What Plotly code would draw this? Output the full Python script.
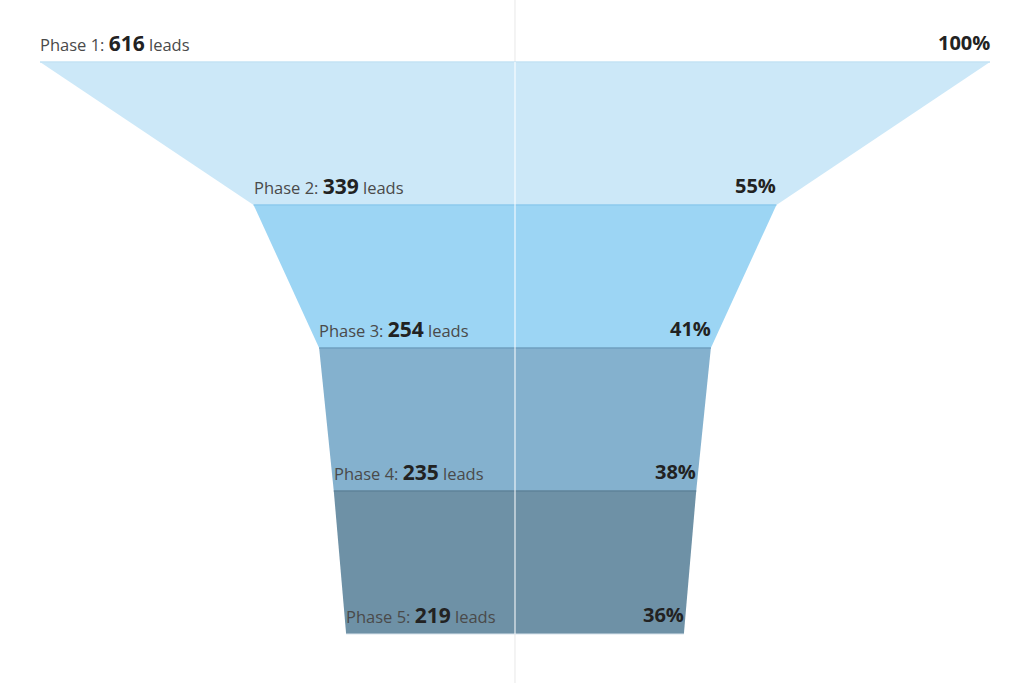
import plotly.graph_objects as go

phases = ["Phase 1", "Phase 2", "Phase 3", "Phase 4", "Phase 5"]
leads = [616, 339, 254, 235, 219]
percent_labels = ["100%", "55%", "41%", "38%", "36%"]
band_colors = ["#cce8f8", "#9cd5f4", "#84b1ce", "#6e91a6"]
edge_colors = ["#c4e3f5", "#8ccaee", "#6f9fbf", "#5f8398"]

# pixel mapping: 950 px for 616 leads, centre at x=515, levels every 143 px from y=62
px_per_lead = 950 / 616
x_range = [-515 / px_per_lead, (1024 - 515) / px_per_lead]
y_range = [(683 - 62) / 143, -62 / 143]

fig = go.Figure()

# background centre line (light grey on white)
fig.add_trace(go.Scatter(x=[0, 0], y=[y_range[1], y_range[0]], mode="lines",
                         line=dict(color="#ececec", width=1.2), hoverinfo="skip", showlegend=False))

for i in range(len(leads) - 1):
    a, b = leads[i] / 2, leads[i + 1] / 2
    fig.add_trace(go.Scatter(
        x=[-a, a, b, -b, -a], y=[i, i, i + 1, i + 1, i],
        mode="lines", fill="toself", fillcolor=band_colors[i],
        line=dict(width=0), hoverinfo="skip", showlegend=False))
    fig.add_trace(go.Scatter(
        x=[-a, a], y=[i, i], mode="lines",
        line=dict(color=edge_colors[i], width=1.5), hoverinfo="skip", showlegend=False))

# bottom edge
b = leads[-1] / 2
fig.add_trace(go.Scatter(x=[-b, b], y=[len(leads) - 1] * 2, mode="lines",
                         line=dict(color="#d8e4ec", width=1.2), hoverinfo="skip", showlegend=False))

# centre line over bands (white)
fig.add_trace(go.Scatter(x=[0, 0], y=[0, len(leads) - 1], mode="lines",
                         line=dict(color="rgba(255,255,255,0.85)", width=1.2),
                         hoverinfo="skip", showlegend=False))

font_family = "Open Sans, Lato, sans-serif"
for i, (p, n, pct) in enumerate(zip(phases, leads, percent_labels)):
    fig.add_annotation(
        x=-n / 2, y=i, xref="x", yref="y", xanchor="left", yanchor="bottom",
        text=f"<span style='color:#4a4a4a'>{p}: </span><b><span style='font-size:21px;color:#222'>{n}</span></b><span style='color:#4a4a4a'> leads</span>",
        showarrow=False, font=dict(family=font_family, size=16.5, color="#4a4a4a"),
        xshift=-2, yshift=3)
    fig.add_annotation(
        x=n / 2, y=i, xref="x", yref="y", xanchor="right", yanchor="bottom",
        text=f"<b>{pct}</b>", showarrow=False,
        font=dict(family=font_family, size=20, color="#222"),
        xshift=2, yshift=4)

fig.update_layout(
    width=1024, height=683,
    margin=dict(l=0, r=0, t=0, b=0),
    paper_bgcolor="white", plot_bgcolor="white",
    xaxis=dict(range=x_range, visible=False, fixedrange=True),
    yaxis=dict(range=y_range, visible=False, fixedrange=True),
)

fig.write_html("out.html", config={"displayModeBar": False},
               post_script="document.body.style.margin='0';")
